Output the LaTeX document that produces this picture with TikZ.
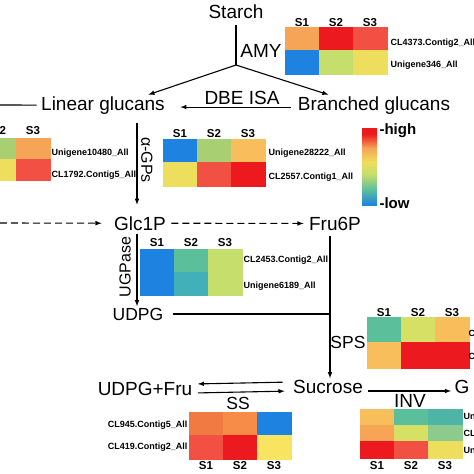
\documentclass[tikz,border=0pt]{standalone}
\usepackage{fontspec}
\setmainfont{Liberation Sans}
\usepackage{tikz}
\usetikzlibrary{calc}
\usepackage{xcolor}
\definecolor{hmblue}{HTML}{1E82E0}
\definecolor{hmred}{HTML}{EC1A1E}
\definecolor{hmredor}{HTML}{F25042}
\definecolor{hmorange}{HTML}{F6A456}
\definecolor{hmorred}{HTML}{F07A42}
\definecolor{hmortwo}{HTML}{F68C48}
\definecolor{hmyel}{HTML}{EEDE5E}
\definecolor{hmyeltwo}{HTML}{F8E460}
\definecolor{hmyg}{HTML}{C6DE6C}
\definecolor{hmlg}{HTML}{A8D072}
\definecolor{hmory}{HTML}{F8BE5C}
\definecolor{hmteal}{HTML}{5CBF9C}
\definecolor{hmtealtwo}{HTML}{42B0B8}
\definecolor{hmtealthree}{HTML}{4EB4A6}
\definecolor{hmgreen}{HTML}{8CCA8E}
\definecolor{hmlemon}{HTML}{D6E064}
\pgfdeclareverticalshading{heatbar}{100bp}{color(0bp)=(hmblue); color(25bp)=(hmblue); color(35bp)=(hmteal); color(45bp)=(hmyg); color(53bp)=(hmyel); color(62bp)=(hmorange); color(71bp)=(hmred); color(100bp)=(hmred)}

\begin{document}
\begin{tikzpicture}[x=1pt, y=-1pt, >=latex, line width=1.1pt]
			\tikzstyle{metab}=[
			font=\fontsize{19}{22}\selectfont,
			inner sep=1pt,
			anchor=base
			]
			\tikzstyle{enzyme}=[
			font=\fontsize{17.5}{20}\selectfont,
			inner sep=1pt,
			anchor=base
			]
			\tikzstyle{side}=[
			font=\fontsize{16}{18}\selectfont,
			inner sep=1pt
			]
			\tikzstyle{cell}=[
			rectangle,
			inner sep=0pt,
			minimum width=34pt,
			minimum height=23.5pt,
			line width=0.3pt
			]
			\tikzstyle{sample}=[font=\fontsize{11.5}{13}\selectfont\bfseries, inner sep=0pt]
			\tikzstyle{gene}=[font=\fontsize{9}{10}\selectfont\bfseries, inner sep=0pt, anchor=base west]
			\tikzstyle{legendtext}=[font=\fontsize{15}{17}\selectfont\bfseries, inner sep=0pt, anchor=base west]
			\useasboundingbox (0,0) rectangle (474,474);
			\clip (0,0) rectangle (474,474);
			%
			\node[metab] (starch) at (236,18) {Starch};
			\node[metab] (amy) at (261,57) {AMY};
			\node[metab] (linear) at (103,110) {Linear glucans};
			\node[metab] (branched) at (374,110) {Branched glucans};
			\node[metab] (dbe) at (242,104) {DBE ISA};
			\node[metab] (glc1p) at (140,230) {Glc1P};
			\node[metab] (fru6p) at (335,230) {Fru6P};
			\node[enzyme] (udpg) at (138,320) {UDPG};
			\node[enzyme] (sps) at (348,348) {SPS};
			\node[metab] (udpgfru) at (145,395) {UDPG+Fru};
			\node[metab] (sucrose) at (328,393) {Sucrose};
			\node[metab, anchor=base west] (glcfru) at (453,393) {G};
			\node[enzyme] (ss) at (238,409) {SS};
			\node[metab] (inv) at (410,407) {INV};
			\node[side, rotate=-90] (agps) at (147,160) {α-GPs};
			\node[side, rotate=90] (ugpase) at (125,267) {UGPase};
			%
			\coordinate (split) at (236,65);
			\coordinate (linleft) at (0,105);
			\coordinate (glcleft) at (0,223);
			\coordinate (fruline) at ([xshift=-5pt]fru6p.south);
			\draw[shorten <=5pt] (starch.south) -- (split);
			\draw[->] (split) -- ([xshift=-18pt]linear.north east);
			\draw[->] (split) -- ([xshift=32pt]branched.north west);
			\draw[shorten <=3pt] (linear.west) -- (linleft);
			\draw[->] ([xshift=-5pt,yshift=-2pt]branched.west) -- ([xshift=14pt,yshift=-2pt]linear.east);
			\draw[->, shorten <=8pt, shorten >=10pt] ([xshift=34pt]linear.south) -- ([xshift=-3pt]glc1p.north);
			\draw[->, dash pattern=on 7pt off 4pt, shorten >=11pt] (glcleft) -- (glc1p.west);
			\draw[->, dash pattern=on 7pt off 4pt, shorten <=4pt, shorten >=4pt] (glc1p.east) -- (fru6p.west);
			\draw[->, shorten <=4pt] (fruline) -- (fruline |- sucrose.north);
			\draw[shorten <=8pt] (udpg.east) -- (udpg.east -| fruline);
			\draw[->, shorten <=2pt] ([xshift=-3pt]glc1p.south) -- ([xshift=-3pt]glc1p.south |- udpg.north);
			\draw[->, shorten <=9pt, shorten >=4pt] ([yshift=11pt]sucrose.base west) -- ([yshift=11pt]udpgfru.base east);
			\draw[->, shorten <=4pt, shorten >=7pt] ([yshift=2pt]udpgfru.base east) -- ([yshift=2pt]sucrose.base west);
			\draw[->, shorten <=4pt, shorten >=2pt] ([yshift=2pt]sucrose.base east) -- ([yshift=2pt]glcfru.base west);
			%
			% AMY
			\foreach \r/\ca/\cb/\cc in {0/hmorange/hmred/hmredor, 1/hmblue/hmyg/hmyel}
				\foreach \i/\c in {0/\ca, 1/\cb, 2/\cc}
					\node[cell, fill=\c, draw=\c] (amy-\r-\i) at (302+34*\i, 38.75+23.5*\r) {};
			\foreach \i in {1,2,3}
				\node[sample] (amy-s\i) at (268+34*\i, 22.5) {S\i};
			\node[gene] (amy-g1) at (390,45) {CL4373.Contig2\_All};
			\node[gene] (amy-g2) at (390,67) {Unigene346\_All};
			%
			% linear glucans (cut by the frame)
			\foreach \r/\cb/\cc in {0/hmlg/hmorange, 1/hmyel/hmredor}
				\foreach \i/\c in {1/\cb, 2/\cc}
					\node[cell, minimum height=21pt, fill=\c, draw=\c] (glu-\r-\i) at (-35+34*\i, 148.5+21*\r) {};
			\foreach \i in {2,3}
				\node[sample] (glu-s\i) at (-69+34*\i, 131) {S\i};
			\node[gene] (glu-g1) at (51,155) {Unigene10480\_All};
			\node[gene] (glu-g2) at (51,177) {CL1792.Contig5\_All};
			%
			% alpha-GPs
			\foreach \r/\ca/\cb/\cc in {0/hmblue/hmlg/hmory, 1/hmyel/hmredor/hmred}
				\foreach \i/\c in {0/\ca, 1/\cb, 2/\cc}
					\node[cell, fill=\c, draw=\c] (agp-\r-\i) at (180+34*\i, 150.75+23.5*\r) {};
			\foreach \i in {1,2,3}
				\node[sample] (agp-s\i) at (146+34*\i, 133.5) {S\i};
			\node[gene] (agp-g1) at (268,155) {Unigene28222\_All};
			\node[gene] (agp-g2) at (268,179) {CL2557.Contig1\_All};
			%
			% colour bar
			\node[shading=heatbar, minimum width=15pt, minimum height=77pt, inner sep=0pt] (bar) at (369.5,166.5) {};
			\node[legendtext] (high) at (379,134) {-high};
			\node[legendtext] (low) at (379,208) {-low};
			%
			% UGPase
			\foreach \r/\ca/\cb/\cc in {0/hmblue/hmteal/hmyg, 1/hmblue/hmtealtwo/hmyg}
				\foreach \i/\c in {0/\ca, 1/\cb, 2/\cc}
					\node[cell, minimum height=23pt, fill=\c, draw=\c] (ugp-\r-\i) at (157+34*\i, 260.5+23*\r) {};
			\foreach \i in {1,2,3}
				\node[sample] (ugp-s\i) at (123+34*\i, 243) {S\i};
			\node[gene] (ugp-g1) at (243,262) {CL2453.Contig2\_All};
			\node[gene] (ugp-g2) at (243,288) {Unigene6189\_All};
			%
			% SPS
			\foreach \r/\ca/\cb/\cc in {0/hmteal/hmlemon/hmory, 1/hmory/hmred/hmred}
				\foreach \i/\c in {0/\ca, 1/\cb, 2/\cc}
					\node[cell, minimum height=25.5pt, fill=\c, draw=\c] (sps-\r-\i) at (384+34*\i, 329.75+25.5*\r) {};
			\foreach \i in {1,2,3}
				\node[sample] (sps-s\i) at (350+34*\i, 312.5) {S\i};
			\node[gene] (sps-g1) at (468,336) {C};
			\node[gene] (sps-g2) at (468,359) {C};
			%
			% SS
			\foreach \r/\ca/\cb/\cc in {0/hmorred/hmortwo/hmblue, 1/hmredor/hmred/hmyeltwo}
				\foreach \i/\c in {0/\ca, 1/\cb, 2/\cc}
					\node[cell, fill=\c, draw=\c] (ss-\r-\i) at (206+34*\i, 423.75+23.5*\r) {};
			\foreach \i in {1,2,3}
				\node[sample] (ss-s\i) at (172+34*\i, 466) {S\i};
			\node[gene, anchor=base east] (ss-g1) at (188,427) {CL945.Contig5\_All};
			\node[gene, anchor=base east] (ss-g2) at (188,449) {CL419.Contig2\_All};
			%
			% INV
			\foreach \r/\ca/\cb/\cc in {0/hmory/hmteal/hmtealthree, 1/hmorange/hmlemon/hmgreen, 2/hmred/hmredor/hmyel}
				\foreach \i/\c in {0/\ca, 1/\cb, 2/\cc}
					\node[cell, minimum height=16.3pt, fill=\c, draw=\c] (inv-\r-\i) at (377+34*\i, 417.15+16.3*\r) {};
			\foreach \i in {1,2,3}
				\node[sample] (inv-s\i) at (343+34*\i, 466) {S\i};
			\node[gene] (inv-g1) at (463,419) {Un};
			\node[gene] (inv-g2) at (463,436) {CL};
			\node[gene] (inv-g3) at (463,453) {Un};
		\end{tikzpicture}
\end{document}
